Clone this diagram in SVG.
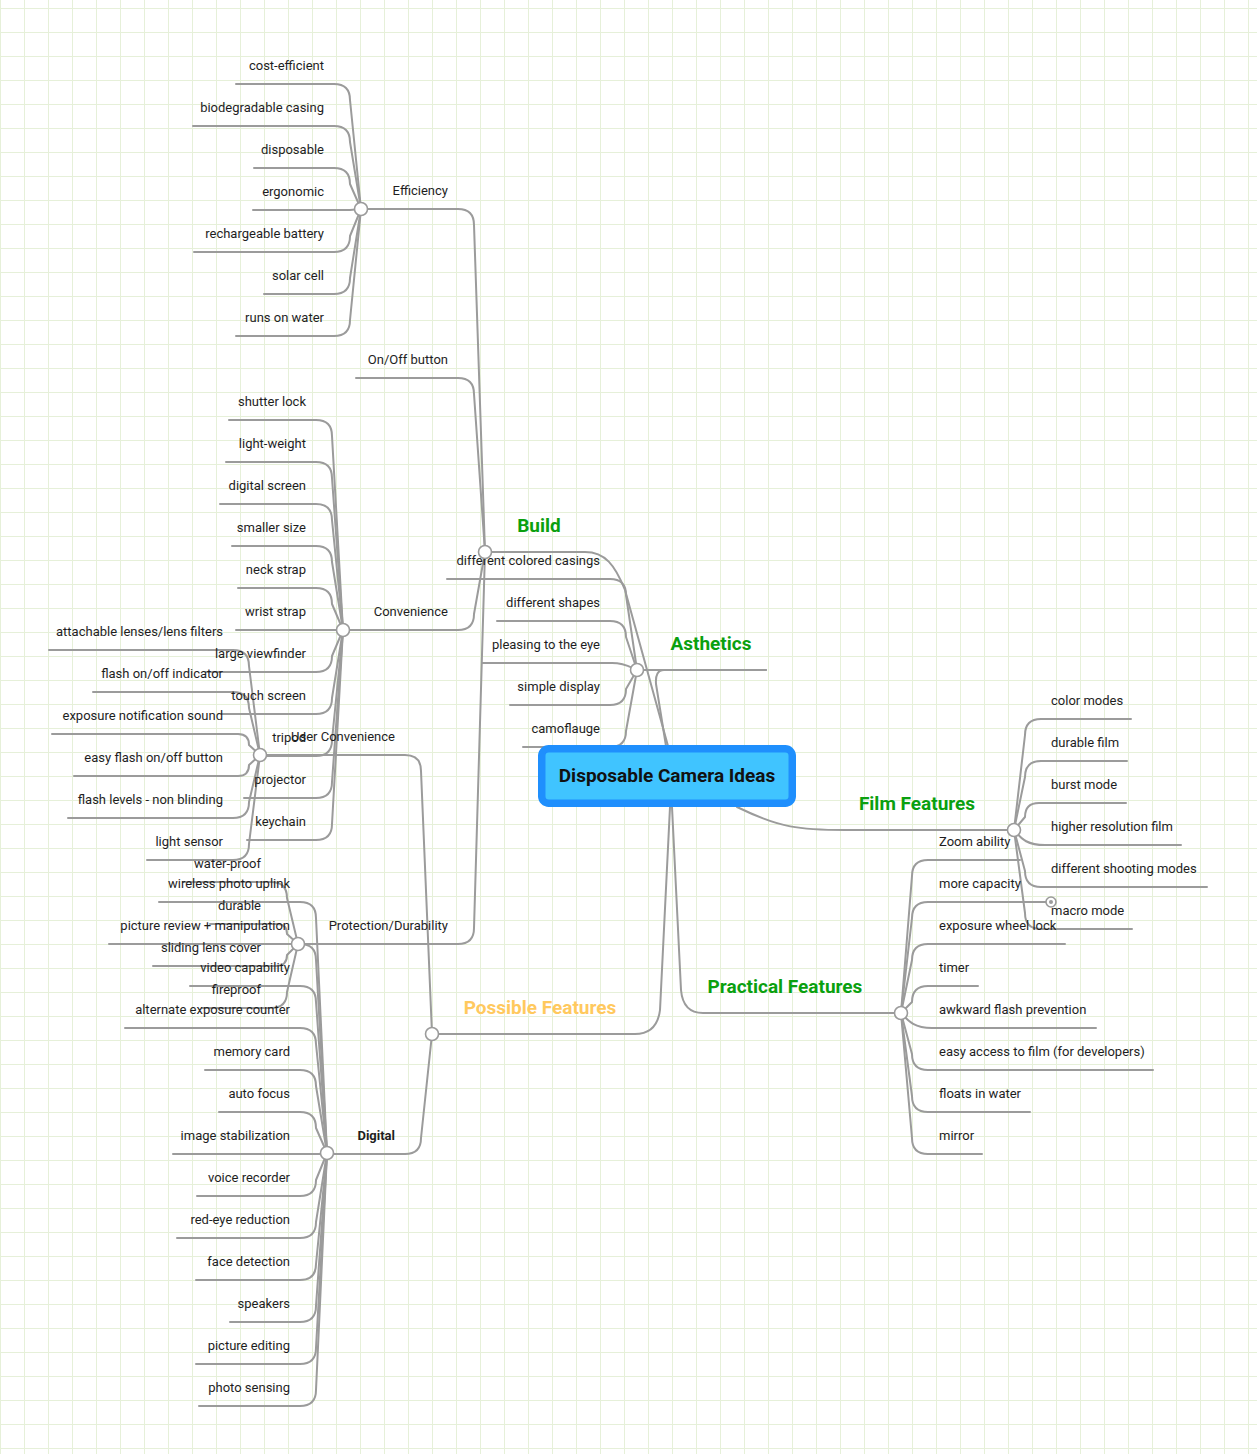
<svg xmlns="http://www.w3.org/2000/svg" width="1257" height="1454" viewBox="0 0 1257 1454">
<defs>
<pattern id="grid" width="24" height="24" x="0" y="8" patternUnits="userSpaceOnUse">
<rect x="0" y="0" width="24" height="1" fill="#e6f0d9"/>
<rect x="0" y="0" width="1" height="24" fill="#e6f0d9"/>
</pattern>
<style>
.c{fill:none;stroke:#9b9b9b;stroke-width:2;stroke-linecap:round;stroke-linejoin:round}
.t{font-family:Roboto,"Liberation Sans",sans-serif;font-size:13px;fill:#1e1e1e}
.e{text-anchor:end}
.g{font-family:Roboto,"Liberation Sans",sans-serif;font-size:19px;font-weight:700;fill:#0aa00f;text-anchor:middle}
.k{fill:#fff;stroke:#9b9b9b;stroke-width:1.6}
</style>
</defs>
<rect width="1257" height="1454" fill="#fff"/>
<rect width="1257" height="1454" fill="url(#grid)"/>

<g id="connectors">
<!-- root to main topics -->
<path class="c" d="M485,552 H585 C605,552 615,565 625,590 L668,746"/>
<path class="c" d="M666,746 L656,684 Q655,670 664,670 H766"/>
<path class="c" d="M637,670 H766"/>
<path class="c" d="M670,807 L660,1010 Q657,1034 635,1034 H432"/>
<path class="c" d="M737,807 C780,828 800,830 845,830 H1014"/>
<path class="c" d="M672,807 L681,990 Q683,1013 703,1013 H901"/>
<!-- Build children -->
<path class="c" d="M361,209 H458 Q474,209 474,225 L485,552"/>
<path class="c" d="M356,378 H458 Q474,378 474,394 L485,552"/>
<path class="c" d="M343,630 H458 Q474,630 474,614 L485,552"/>
<path class="c" d="M298,944 H458 Q474,944 474,928 L485,552"/>
<!-- Efficiency children -->
<path class="c" d="M236,84 H334 Q350,84 350,100 L361,209"/>
<path class="c" d="M193,126 H334 Q350,126 350,142 L361,209"/>
<path class="c" d="M254,168 H334 Q350,168 350,184 L361,209"/>
<path class="c" d="M253,210 H350 L361,209"/>
<path class="c" d="M194,252 H334 Q350,252 350,236 L361,209"/>
<path class="c" d="M264,294 H334 Q350,294 350,278 L361,209"/>
<path class="c" d="M236,336 H334 Q350,336 350,320 L361,209"/>
<!-- Convenience children -->
<path class="c" d="M229,420 H316 Q332,420 332,436 L343,630"/>
<path class="c" d="M226,462 H316 Q332,462 332,478 L343,630"/>
<path class="c" d="M220,504 H316 Q332,504 332,520 L343,630"/>
<path class="c" d="M232,546 H316 Q332,546 332,562 L343,630"/>
<path class="c" d="M238,588 H316 Q332,588 332,604 L343,630"/>
<path class="c" d="M236,630 H343"/>
<path class="c" d="M206,672 H316 Q332,672 332,656 L343,630"/>
<path class="c" d="M222,714 H316 Q332,714 332,698 L343,630"/>
<path class="c" d="M263,756 H316 Q332,756 332,740 L343,630"/>
<path class="c" d="M244,798 H316 Q332,798 332,782 L343,630"/>
<path class="c" d="M247,840 H316 Q332,840 332,824 L343,630"/>
<!-- User Convenience children -->
<path class="c" d="M49,650 H233 Q249,650 249,666 L260,755"/>
<path class="c" d="M93,692 H233 Q249,692 249,708 L260,755"/>
<path class="c" d="M52,734 H238 Q249,734 249,745 L260,755"/>
<path class="c" d="M74,776 H238 Q249,776 249,765 L260,755"/>
<path class="c" d="M68,818 H233 Q249,818 249,802 L260,755"/>
<path class="c" d="M147,860 H233 Q249,860 249,844 L260,755"/>
<!-- Possible Features children -->
<path class="c" d="M260,755 H405 Q421,755 421,771 L432,1034"/>
<path class="c" d="M327,1154 H405 Q421,1154 421,1138 L432,1034"/>
<!-- Protection/Durability children -->
<path class="c" d="M183,882 H271 Q287,882 287,898 L298,944"/>
<path class="c" d="M210,924 H277 Q287,924 287,934 L298,944"/>
<path class="c" d="M153,966 H276 Q287,966 287,955 L298,944"/>
<path class="c" d="M202,1008 H271 Q287,1008 287,992 L298,944"/>
<!-- Digital children -->
<path class="c" d="M159,902 H300 Q316,902 316,918 L327,1153"/>
<path class="c" d="M109,944 H300 Q316,944 316,960 L327,1153"/>
<path class="c" d="M190,986 H300 Q316,986 316,1002 L327,1153"/>
<path class="c" d="M125,1028 H300 Q316,1028 316,1044 L327,1153"/>
<path class="c" d="M205,1070 H300 Q316,1070 316,1086 L327,1153"/>
<path class="c" d="M219,1112 H300 Q316,1112 316,1128 L327,1153"/>
<path class="c" d="M173,1154 H327"/>
<path class="c" d="M197,1196 H300 Q316,1196 316,1180 L327,1153"/>
<path class="c" d="M177,1238 H300 Q316,1238 316,1222 L327,1153"/>
<path class="c" d="M196,1280 H300 Q316,1280 316,1264 L327,1153"/>
<path class="c" d="M230,1322 H300 Q316,1322 316,1306 L327,1153"/>
<path class="c" d="M196,1364 H300 Q316,1364 316,1348 L327,1153"/>
<path class="c" d="M199,1406 H300 Q316,1406 316,1390 L327,1153"/>
<!-- Asthetics children -->
<path class="c" d="M447,579 H610 Q626,579 626,595 L637,670"/>
<path class="c" d="M497,621 H610 Q626,621 626,637 L637,670"/>
<path class="c" d="M482,663 H612 C625,663 630,667 637,670"/>
<path class="c" d="M510,705 H610 Q626,705 626,689 L637,670"/>
<path class="c" d="M523,747 H610 Q626,747 626,731 L637,670"/>
<!-- Film Features children -->
<path class="c" d="M1014,830 L1025,735 Q1025,719 1041,719 H1131"/>
<path class="c" d="M1014,830 L1025,777 Q1025,761 1041,761 H1127"/>
<path class="c" d="M1014,830 L1025,817 Q1025,803 1039,803 H1126"/>
<path class="c" d="M1014,830 C1022,840 1028,845 1045,845 H1181"/>
<path class="c" d="M1014,830 L1025,871 Q1025,887 1041,887 H1207"/>
<path class="c" d="M1014,830 L1025,913 Q1025,929 1041,929 H1132"/>
<!-- Practical Features children -->
<path class="c" d="M901,1013 L912,876 Q912,860 928,860 H1020"/>
<path class="c" d="M901,1013 L912,918 Q912,902 928,902 H1046"/>
<path class="c" d="M901,1013 L912,960 Q912,944 928,944 H1065"/>
<path class="c" d="M901,1013 L912,1002 Q912,986 928,986 H978"/>
<path class="c" d="M901,1013 C909,1022 915,1028 932,1028 H1096"/>
<path class="c" d="M901,1013 L912,1054 Q912,1070 928,1070 H1153"/>
<path class="c" d="M901,1013 L912,1096 Q912,1112 928,1112 H1030"/>
<path class="c" d="M901,1013 L912,1138 Q912,1154 928,1154 H982"/>
</g>

<g id="efficiency-children">
<text class="t e" x="324" y="70">cost-efficient</text>
<text class="t e" x="324" y="112">biodegradable casing</text>
<text class="t e" x="324" y="154">disposable</text>
<text class="t e" x="324" y="196">ergonomic</text>
<text class="t e" x="324" y="238">rechargeable battery</text>
<text class="t e" x="324" y="280">solar cell</text>
<text class="t e" x="324" y="322">runs on water</text>
</g>
<g id="convenience-children">
<text class="t e" x="306" y="406">shutter lock</text>
<text class="t e" x="306" y="448">light-weight</text>
<text class="t e" x="306" y="490">digital screen</text>
<text class="t e" x="306" y="532">smaller size</text>
<text class="t e" x="306" y="574">neck strap</text>
<text class="t e" x="306" y="616">wrist strap</text>
<text class="t e" x="306" y="658">large viewfinder</text>
<text class="t e" x="306" y="700">touch screen</text>
<text class="t e" x="306" y="742">tripod</text>
<text class="t e" x="306" y="784">projector</text>
<text class="t e" x="306" y="826">keychain</text>
</g>
<g id="user-convenience-children">
<text class="t e" x="223" y="636">attachable lenses/lens filters</text>
<text class="t e" x="223" y="678">flash on/off indicator</text>
<text class="t e" x="223" y="720">exposure notification sound</text>
<text class="t e" x="223" y="762">easy flash on/off button</text>
<text class="t e" x="223" y="804">flash levels - non blinding</text>
<text class="t e" x="223" y="846">light sensor</text>
</g>
<g id="protection-children">
<text class="t e" x="261" y="868">water-proof</text>
<text class="t e" x="261" y="910">durable</text>
<text class="t e" x="261" y="952">sliding lens cover</text>
<text class="t e" x="261" y="994">fireproof</text>
</g>
<g id="digital-children">
<text class="t e" x="290" y="888">wireless photo uplink</text>
<text class="t e" x="290" y="930">picture review + manipulation</text>
<text class="t e" x="290" y="972">video capability</text>
<text class="t e" x="290" y="1014">alternate exposure counter</text>
<text class="t e" x="290" y="1056">memory card</text>
<text class="t e" x="290" y="1098">auto focus</text>
<text class="t e" x="290" y="1140">image stabilization</text>
<text class="t e" x="290" y="1182">voice recorder</text>
<text class="t e" x="290" y="1224">red-eye reduction</text>
<text class="t e" x="290" y="1266">face detection</text>
<text class="t e" x="290" y="1308">speakers</text>
<text class="t e" x="290" y="1350">picture editing</text>
<text class="t e" x="290" y="1392">photo sensing</text>
</g>
<g id="asthetics-children">
<text class="t e" x="600" y="565">different colored casings</text>
<text class="t e" x="600" y="607">different shapes</text>
<text class="t e" x="600" y="649">pleasing to the eye</text>
<text class="t e" x="600" y="691">simple display</text>
<text class="t e" x="600" y="733">camoflauge</text>
</g>
<g id="film-children">
<text class="t" x="1051" y="705">color modes</text>
<text class="t" x="1051" y="747">durable film</text>
<text class="t" x="1051" y="789">burst mode</text>
<text class="t" x="1051" y="831">higher resolution film</text>
<text class="t" x="1051" y="873">different shooting modes</text>
<text class="t" x="1051" y="915">macro mode</text>
</g>
<g id="practical-children">
<text class="t" x="939" y="846">Zoom ability</text>
<text class="t" x="939" y="888">more capacity</text>
<text class="t" x="939" y="930">exposure wheel lock</text>
<text class="t" x="939" y="972">timer</text>
<text class="t" x="939" y="1014">awkward flash prevention</text>
<text class="t" x="939" y="1056">easy access to film (for developers)</text>
<text class="t" x="939" y="1098">floats in water</text>
<text class="t" x="939" y="1140">mirror</text>
<circle class="k" cx="1051" cy="902" r="5"/>
<circle cx="1051" cy="902" r="2" fill="#9b9b9b"/>
</g>

<g id="efficiency"><text class="t e" x="448" y="195">Efficiency</text><circle class="k" cx="361" cy="209" r="6.5"/></g>
<g id="onoff"><text class="t e" x="448" y="364">On/Off button</text></g>
<g id="convenience"><text class="t e" x="448" y="616">Convenience</text><circle class="k" cx="343" cy="630" r="6.5"/></g>
<g id="protection"><text class="t e" x="448" y="930">Protection/Durability</text><circle class="k" cx="298" cy="944" r="6.5"/></g>
<g id="user-convenience"><text class="t e" x="395" y="741">User Convenience</text><circle class="k" cx="260" cy="755" r="6.5"/></g>
<g id="digital"><text class="t e" x="395" y="1140" font-weight="700">Digital</text><circle class="k" cx="327" cy="1153" r="6.5"/></g>
<g id="build"><text class="g" x="539" y="532">Build</text><circle class="k" cx="485" cy="552" r="6.5"/></g>
<g id="asthetics"><text class="g" x="711" y="650">Asthetics</text><circle class="k" cx="637" cy="670" r="6.5"/></g>
<g id="possible"><text class="g" x="540" y="1014" style="fill:#ffc95e">Possible Features</text><circle class="k" cx="432" cy="1034" r="6.5"/></g>
<g id="film"><text class="g" x="917" y="810">Film Features</text><circle class="k" cx="1014" cy="830" r="6.5"/></g>
<g id="practical"><text class="g" x="785" y="993">Practical Features</text><circle class="k" cx="901" cy="1013" r="6.5"/></g>

<g id="root">
<rect x="541.75" y="748.75" width="250.5" height="54.5" rx="7" fill="#40c4ff" stroke="#1f8ffd" stroke-width="7.5"/>
<text x="667" y="782" text-anchor="middle" style="font-family:Roboto,'Liberation Sans',sans-serif;font-size:19px;font-weight:700;fill:#111">Disposable Camera Ideas</text>
</g>
</svg>
